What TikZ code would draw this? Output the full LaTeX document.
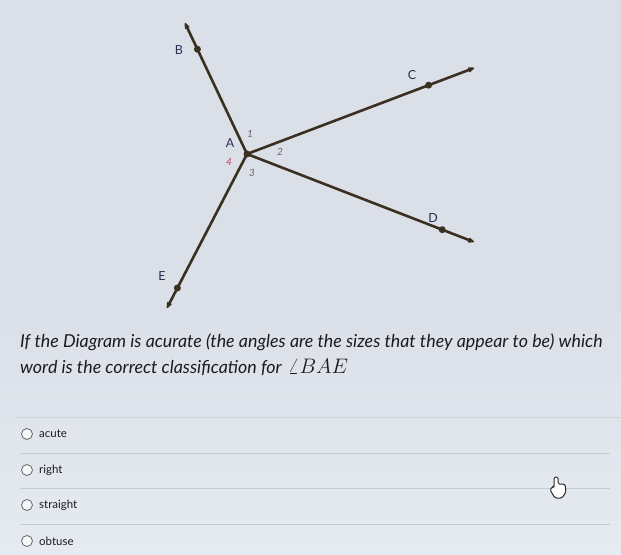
\documentclass[tikz,border=0pt]{standalone}
\usepackage{fontspec}
\setmainfont{Lato}
\usetikzlibrary{arrows.meta,calc}

\definecolor{bgtop}{RGB}{219,223,232}
\definecolor{bglow}{RGB}{230,235,241}
\definecolor{raycol}{RGB}{58,48,32}
\definecolor{labcol}{RGB}{40,46,78}
\definecolor{numcol}{RGB}{112,96,116}
\definecolor{redcol}{RGB}{196,70,84}
\definecolor{rulecol}{RGB}{198,203,210}
\definecolor{txtcol}{RGB}{28,28,30}

\begin{document}
\begin{tikzpicture}[x=1bp,y=-1bp,>={Stealth[round,length=9bp,width=7bp]},
        ray/.style={->,line width=2.6bp,draw=raycol},
        pt/.style={circle,fill=raycol,inner sep=0pt,minimum size=7bp},
        ptlabel/.style={font=\fontsize{12.5}{14}\selectfont,text=labcol},
        anglabel/.style={font=\itshape\fontsize{10}{11}\selectfont,text=numcol},
        question/.style={anchor=base west,font=\itshape\fontsize{17.9}{20}\selectfont,text=txtcol,inner sep=0pt},
        radio/.style={circle,draw=black!60,line width=0.8bp,fill=white!60!bglow,minimum size=11bp,inner sep=0pt},
        choice/.style={anchor=west,font=\fontsize{11.5}{13}\selectfont,text=txtcol,inner sep=0pt}]
        \useasboundingbox (0,0) rectangle (621,555);
        \fill[bgtop] (0,0) rectangle (621,555);
        \shade[top color=bgtop,bottom color=bglow] (0,300) rectangle (621,555);

        % rays from the vertex
        \coordinate (A)    at (247,154);
        \coordinate (Btip) at (185,23);
        \coordinate (Ctip) at (474,68);
        \coordinate (Dtip) at (474,242);
        \coordinate (Etip) at (167,308);
        \draw[ray] (A) -- (Btip);
        \draw[ray] (A) -- (Ctip);
        \draw[ray] (A) -- (Dtip);
        \draw[ray] (A) -- (Etip);
        \node[pt] (Adot) at (A) {};
        \node[pt] (Bdot) at ($(A)!0.80!(Btip)$) {};
        \node[pt] (Cdot) at ($(A)!0.80!(Ctip)$) {};
        \node[pt] (Ddot) at ($(A)!0.86!(Dtip)$) {};
        \node[pt] (Edot) at ($(A)!0.87!(Etip)$) {};

        % point names
        \node[ptlabel] (labA) at (230,143) {A};
        \node[ptlabel] (labB) at (179,50)  {B};
        \node[ptlabel] (labC) at (412,75)  {C};
        \node[ptlabel] (labD) at (433,218) {D};
        \node[ptlabel] (labE) at (162,276) {E};

        % angle numbers
        \node[anglabel]             (ang1) at (250,134) {1};
        \node[anglabel]             (ang2) at (280,152) {2};
        \node[anglabel]             (ang3) at (252,173) {3};
        \node[anglabel,text=redcol] (ang4) at (229,162) {4};

        % question
        \node[question] (q1) at (20,347) {If the Diagram is acurate (the angles are the sizes that they appear to be) which};
        \node[question] (q2) at (20,373) {word is the correct classification for};
        \node[question,scale=1.22,transform shape] (angBAE) at ($(q2.base east)+(6,0)$) {$\angle BAE$};

        % answer list
        \draw[rulecol!70!bglow,line width=0.8bp] (15,417) -- (621,417);
        \foreach \y/\word [count=\i] in {434/acute,470/right,505/straight,541/obtuse}{
            \node[radio] (r\i) at (27,\y) {};
            \node[choice] (c\i) at (39,\y) {\word};
        }
        \foreach \y in {453,488,524}
            \draw[rulecol,line width=0.8bp] (20,\y) -- (610,\y);

        % pointer
        \draw[black!85,fill=white,line width=1bp,rounded corners=1.5bp]
            (554,487) -- (554,477) -- (558,477) -- (558,484) -- (565,484)
            -- (566,492) -- (562,498) -- (555,498) -- (550,490) -- (552,487) -- cycle;
    \end{tikzpicture}
\end{document}
